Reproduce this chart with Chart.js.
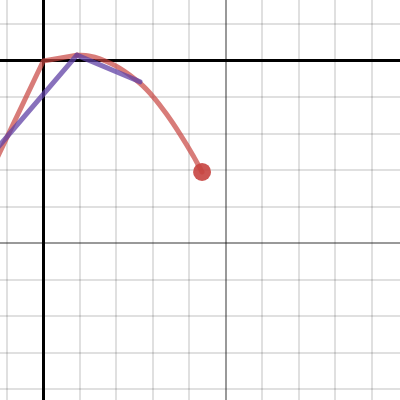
<!DOCTYPE html>
<html>
<head>
<meta charset="utf-8">
<script src="https://cdn.jsdelivr.net/npm/chart.js@4/dist/chart.umd.min.js"></script>
<style>
  html, body { margin: 0; padding: 0; background: #fff; }
  #wrap { width: 400px; height: 400px; }
</style>
</head>
<body>
<div id="wrap"><canvas id="graph"></canvas></div>
<script>
// red: straight piece into the origin, then the curve
const redLineX = [-1.5, 0, 0.92];
const redLineY = [-3.15, 0, 0.16];
const redCurveX = [0.92, 1.25, 1.55, 2.1, 2.65, 3.01, 3.38, 3.75, 4.11, 4.35];
const redCurveY = [0.16, 0.14, 0.06, -0.2, -0.61, -0.98, -1.46, -2.01, -2.6, -3.04];
// purple secant line
const purpleX = [-2, 0.92, 2.65];
const purpleY = [-3.25, 0.16, -0.57];
// end point
const dotX = [4.35];
const dotY = [-3.04];

const toPts = (xs, ys) => xs.map((x, i) => ({ x: x, y: ys[i] }));

const gridColor = (c) => {
  const v = c.tick.value;
  if (Math.abs(v - Math.round(v)) > 1e-6) return 'rgba(0,0,0,0)';
  if (v === 0) return '#000';
  if (v % 5 === 0) return 'rgba(0,0,0,0.4)';
  return 'rgba(0,0,0,0.12)';
};
const gridWidth = (c) => (c.tick.value === 0 ? 3 : 2);

const axis = (min, max) => ({
  type: 'linear',
  min: min,
  max: max,
  border: { display: false },
  grid: { color: gridColor, lineWidth: gridWidth, drawTicks: false },
  ticks: { display: false, stepSize: 1, includeBounds: false },
});

const stroke = (color) => ({
  showLine: true,
  borderColor: color,
  borderWidth: 5,
  pointRadius: 0,
  borderCapStyle: 'round',
  borderJoinStyle: 'round',
});

new Chart(document.getElementById('graph'), {
  type: 'scatter',
  data: {
    datasets: [
      { data: toPts(purpleX, purpleY), ...stroke('rgba(96,66,166,0.75)') },
      { data: toPts(redLineX, redLineY), ...stroke('rgba(199,68,64,0.7)') },
      { data: toPts(redCurveX, redCurveY), ...stroke('rgba(199,68,64,0.7)'), tension: 0.3 },
      {
        data: toPts(dotX, dotY),
        pointRadius: 9,
        pointBackgroundColor: 'rgba(199,68,64,0.9)',
        pointBorderWidth: 0,
      },
    ],
  },
  options: {
    responsive: true,
    maintainAspectRatio: false,
    animation: false,
    layout: { padding: 0, autoPadding: false },
    plugins: { legend: { display: false }, tooltip: { enabled: false } },
    scales: {
      x: axis(-1.186, 9.773),
      y: axis(-9.288, 1.671),
    },
  },
});
</script>
</body>
</html>
